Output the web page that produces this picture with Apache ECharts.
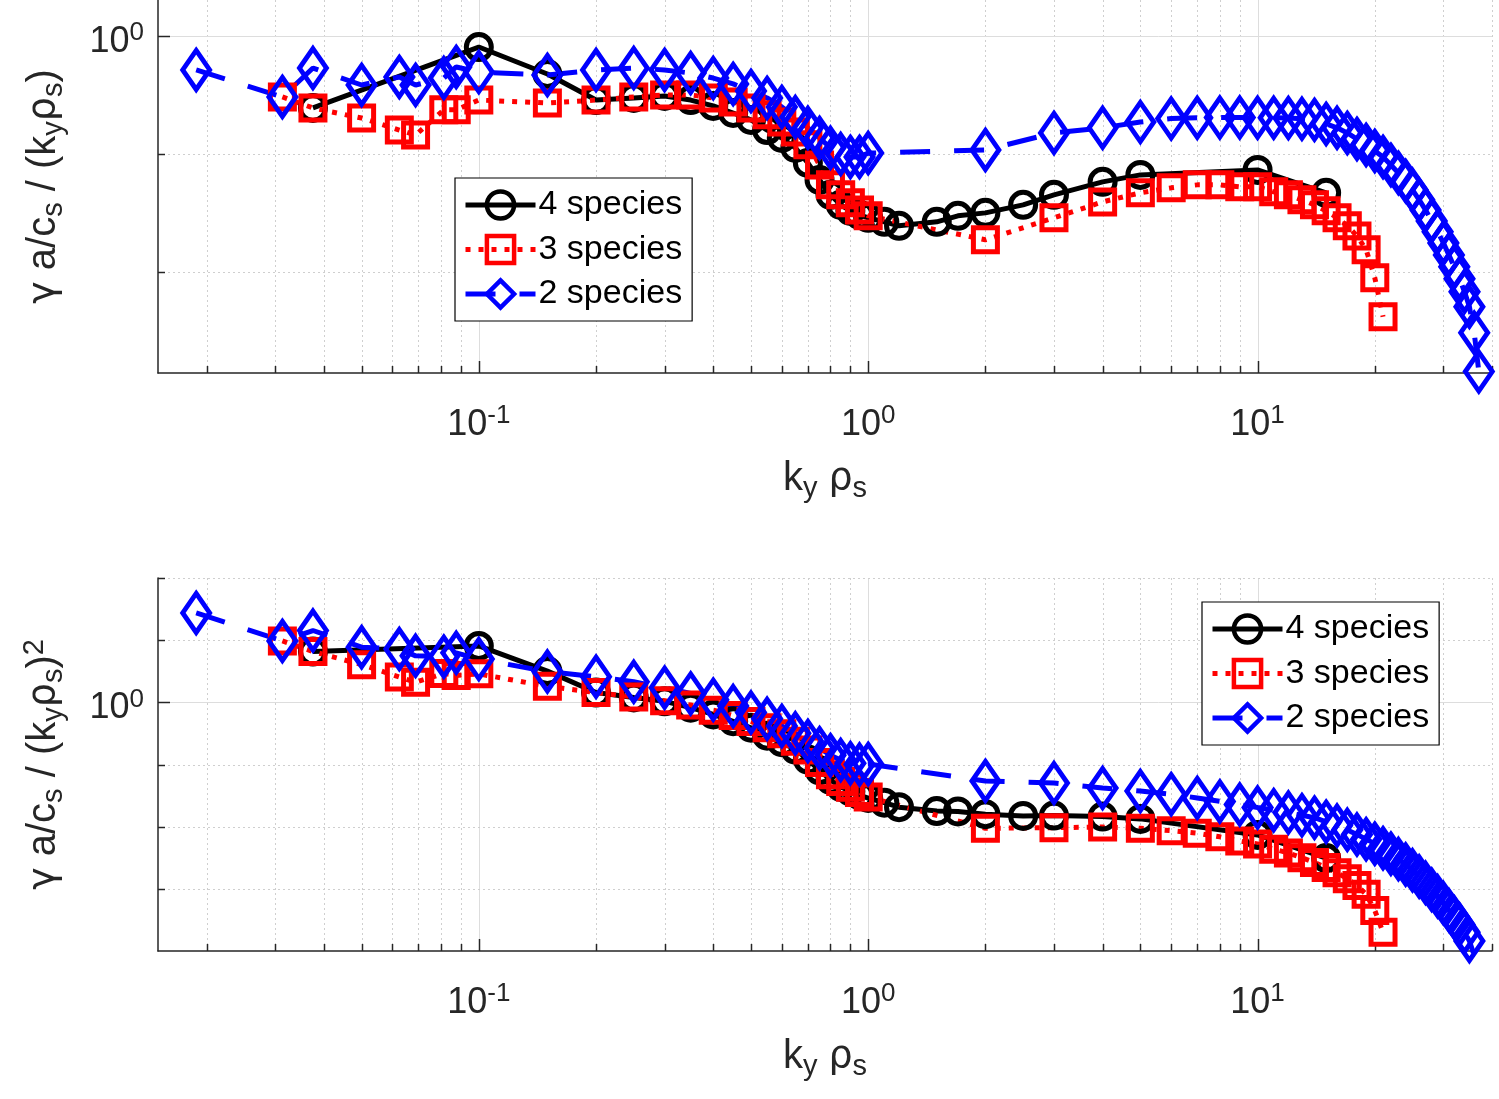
<!DOCTYPE html>
<html>
<head>
<meta charset="utf-8">
<script src="https://cdn.jsdelivr.net/npm/echarts@6/dist/echarts.min.js"></script>
<style>
  html, body { margin: 0; padding: 0; background: #fff; }
  #main { width: 1499px; height: 1099px; }
</style>
</head>
<body>
<div id="main"></div>
<script>
// ---- data ----
// 4 species (black circles)
const kyBlack = [0.0375, 0.1, 0.15, 0.2, 0.25, 0.3, 0.35, 0.4, 0.45, 0.5, 0.55, 0.6, 0.65, 0.7, 0.75, 0.8, 0.85, 0.9, 0.95, 1.0,
  1.1, 1.2, 1.5, 1.7, 2, 2.5, 3, 4, 5, 10, 15];
const topBlack = [0.246, 0.807, 0.477, 0.287, 0.299, 0.311, 0.287, 0.256, 0.223, 0.195, 0.160, 0.137, 0.113, 0.0843, 0.0605, 0.0452, 0.0372, 0.0331, 0.0306, 0.0289,
  0.0267, 0.0247, 0.0267, 0.0300, 0.0318, 0.0372, 0.0452, 0.0582, 0.0667, 0.0735, 0.0470];
const botBlack = [6.56, 8.07, 3.18, 1.435, 1.196, 1.037, 0.820, 0.640, 0.496, 0.390, 0.291, 0.228, 0.174, 0.120, 0.0807, 0.0565, 0.0438, 0.0368, 0.0322, 0.0289,
  0.0243, 0.0206, 0.0178, 0.0176, 0.0159, 0.01488, 0.01507, 0.01455, 0.01334, 0.00735, 0.00313];

// 3 species (red squares)
const kyRed = [0.0313, 0.0375, 0.05, 0.0625, 0.0688, 0.0813, 0.0875, 0.1,
  0.15, 0.2, 0.25, 0.3, 0.35, 0.4, 0.45, 0.5, 0.55, 0.6, 0.65, 0.7, 0.75, 0.8, 0.85, 0.9, 0.95, 1.0,
  2, 3, 4, 5, 6, 7, 8, 9, 10, 11, 12, 13, 14, 15, 16, 17, 18, 19, 20, 21];
const topRed = [0.305, 0.246, 0.202, 0.160, 0.145, 0.237, 0.237, 0.287,
  0.271, 0.287, 0.305, 0.317, 0.317, 0.299, 0.277, 0.246, 0.215, 0.187, 0.154, 0.120, 0.0810, 0.0549, 0.0452, 0.0387, 0.0337, 0.0300,
  0.0188, 0.0289, 0.0394, 0.0470, 0.0518, 0.0549, 0.0549, 0.0528, 0.0528, 0.0479, 0.0452, 0.0410, 0.0372, 0.0331, 0.0289, 0.0247, 0.0203, 0.0155, 0.00897, 0.0042];
const botRed = [9.74, 6.56, 4.04, 2.56, 2.11, 2.92, 2.71, 2.87,
  1.81, 1.435, 1.22, 1.057, 0.906, 0.748, 0.616, 0.492, 0.391, 0.312, 0.237, 0.171, 0.108, 0.0686, 0.0532, 0.0430, 0.0355, 0.0300,
  0.0094, 0.00963, 0.00985, 0.0094, 0.00863, 0.00784, 0.00686, 0.00587, 0.00528, 0.00435, 0.00377, 0.00315, 0.00266, 0.00221, 0.00181, 0.00145, 0.00113, 0.000816, 0.000449, 0.0002];

// 2 species (blue diamonds)
const kyBlue = [0.0188, 0.0313, 0.0375, 0.05, 0.0625, 0.0688, 0.0813, 0.0875, 0.1,
  0.15, 0.2, 0.25, 0.3, 0.35, 0.4, 0.45, 0.5, 0.55, 0.6, 0.65, 0.7, 0.75, 0.8, 0.85, 0.9, 0.95, 1.0,
  2, 3, 4, 5, 6, 7, 8, 9, 10, 11, 12, 13, 14, 15, 16, 17, 18, 19, 20,
  21, 22, 23, 24, 25, 26, 27, 28, 29, 30, 31, 32, 33, 34, 35, 36, 37];
const topBlue = [0.516, 0.305, 0.536, 0.385, 0.450, 0.385, 0.441, 0.547, 0.496,
  0.468, 0.516, 0.536, 0.516, 0.486, 0.441, 0.393, 0.343, 0.299, 0.251, 0.206, 0.167, 0.137, 0.113, 0.100, 0.0947, 0.0947, 0.102,
  0.1086, 0.151, 0.167, 0.187, 0.200, 0.203, 0.204, 0.204, 0.203, 0.203, 0.202, 0.199, 0.195, 0.180, 0.167, 0.151, 0.1345, 0.1197, 0.1064,
  0.0947, 0.0810, 0.0693, 0.0593, 0.0498, 0.0410, 0.0337, 0.0272, 0.0220, 0.0177, 0.0140, 0.0111, 0.0088, 0.00683, 0.00509, 0.00307, 0.00144];
const botBlue = [27.4, 9.74, 14.3, 7.70, 7.20, 5.60, 5.42, 6.25, 4.96,
  3.12, 2.58, 2.14, 1.72, 1.389, 1.103, 0.873, 0.686, 0.544, 0.418, 0.317, 0.239, 0.183, 0.141, 0.118, 0.105, 0.0997, 0.102,
  0.0543, 0.0503, 0.0418, 0.0374, 0.0333, 0.0290, 0.0255, 0.0227, 0.0203, 0.01845, 0.01683, 0.0153, 0.01393, 0.0120, 0.01044, 0.00888, 0.00747, 0.00630, 0.00532,
  0.00451, 0.00368, 0.00301, 0.00247, 0.00199, 0.00158, 0.00125, 0.000971, 0.000759, 0.000590, 0.000452, 0.000347, 0.000267, 0.000201, 0.000145, 0.0000853, 0.0000389];

const seriesNames = ['4 species', '3 species', '2 species'];

// grid lines / ticks (axis decoration, MATLAB style)
const xMinor = [0.02, 0.03, 0.04, 0.05, 0.06, 0.07, 0.08, 0.09, 0.2, 0.3, 0.4, 0.5, 0.6, 0.7, 0.8, 0.9,
  2, 3, 4, 5, 6, 7, 8, 9, 20, 30, 40];
const xMajor = [0.1, 1, 10];
const yMinorTop = [0.01, 0.1];
const yMinorBot = [0.001, 0.01, 0.1, 10, 100];

const FONT = '"Liberation Sans", Arial, Helvetica, sans-serif';
const AX = '#262626';

function gridItems(yMinor) {
  const items = [];
  xMinor.forEach(v => items.push([v, 1, 0]));
  xMajor.forEach(v => items.push([v, 1, 1]));
  yMinor.forEach(v => items.push([1, v, 2]));
  items.push([1, 1, 3]);
  return items;
}

function renderGrid(params, api) {
  const cs = params.coordSys;
  const kind = api.value(2);
  const pt = api.coord([api.value(0), api.value(1)]);
  const major = kind === 1 || kind === 3;
  const gStyle = major ? { stroke: '#dddddd', lineWidth: 1 } : { stroke: '#cfcfcf', lineWidth: 1, lineDash: [2, 3] };
  const tStyle = { stroke: AX, lineWidth: 1.5 };
  const tl = major ? 12 : 7;
  if (kind < 2) {
    const x = Math.round(pt[0]) + 0.5;
    const b = cs.y + cs.height;
    return { type: 'group', children: [
      { type: 'line', shape: { x1: x, y1: cs.y, x2: x, y2: b }, style: gStyle },
      { type: 'line', shape: { x1: x, y1: b, x2: x, y2: b - tl }, style: tStyle }
    ] };
  }
  const y = Math.round(pt[1]) + 0.5;
  return { type: 'group', children: [
    { type: 'line', shape: { x1: cs.x, y1: y, x2: cs.x + cs.width, y2: y }, style: gStyle },
    { type: 'line', shape: { x1: cs.x, y1: y, x2: cs.x + tl, y2: y }, style: tStyle }
  ] };
}

function decade(v) {
  const e = Math.log10(v);
  const r = Math.round(e);
  return Math.abs(e - r) < 1e-6 ? r : null;
}

const labelRich = {
  b: { fontFamily: FONT, fontSize: 36, lineHeight: 44, color: AX },
  s: { fontFamily: FONT, fontSize: 26, lineHeight: 24, verticalAlign: 'top', color: AX }
};
const nameRich = {
  n: { fontFamily: FONT, fontSize: 40, lineHeight: 48, color: AX },
  g: { fontFamily: '"DejaVu Sans", sans-serif', fontSize: 38, lineHeight: 48, color: AX },
  s: { fontFamily: FONT, fontSize: 29, lineHeight: 24, verticalAlign: 'bottom', color: AX },
  p: { fontFamily: FONT, fontSize: 29, lineHeight: 26, verticalAlign: 'top', color: AX }
};

const styles = [
  { color: '#000000', symbol: 'circle', size: 25, dash: 'solid' },
  { color: '#ff0000', symbol: 'rect', size: 24, dash: [5, 8] },
  { color: '#0000ff', symbol: 'diamond', size: [27, 39], dash: [30, 24] }
];

function lineSeries(i, grid, ky, vals) {
  const st = styles[i];
  return {
    name: seriesNames[i], type: 'line', xAxisIndex: grid, yAxisIndex: grid,
    data: ky.map((k, j) => [k, vals[j]]),
    symbol: st.symbol, symbolSize: st.size, showAllSymbol: true,
    lineStyle: { color: st.color, width: 5, type: st.dash },
    itemStyle: { color: 'rgba(255,255,255,0)', borderColor: st.color, borderWidth: 5 },
    emphasis: { disabled: true }, z: 3, animation: false
  };
}

function xAxisCfg(i) {
  return {
    type: 'log', gridIndex: i, min: 0.015, max: 40,
    axisLine: { show: true, onZero: false, lineStyle: { color: AX, width: 1.5 } },
    axisTick: { show: false }, splitLine: { show: false },
    axisLabel: {
      margin: 30, rich: labelRich,
      formatter: v => { const d = decade(v); return d === null ? '' : '{b|10}{s|' + d + '}'; }
    },
    name: '{n|k}{s|y}{n| }{g|ρ}{s|s}', nameLocation: 'middle', nameGap: 82,
    nameTextStyle: { rich: nameRich }
  };
}

function yAxisCfg(i, mn, mx, name) {
  return {
    type: 'log', gridIndex: i, min: mn, max: mx,
    axisLine: { show: true, onZero: false, lineStyle: { color: AX, width: 1.5 } },
    axisTick: { show: false }, splitLine: { show: false },
    axisLabel: {
      margin: 14, rich: labelRich, padding: [12, 0, 0, 0],
      formatter: v => decade(v) === 0 ? '{b|10}{s|0}' : ''
    },
    name: name, nameLocation: 'middle', nameRotate: 90, nameGap: 90,
    nameTextStyle: { rich: nameRich }
  };
}

function legendCfg(left, top) {
  return {
    data: seriesNames, orient: 'vertical', left: left, top: top,
    itemWidth: 70, itemHeight: 34, itemGap: 10.5,
    padding: [10, 10, 10, 8],
    backgroundColor: '#ffffff', borderColor: '#000000', borderWidth: 1.2,
    selectedMode: false,
    lineStyle: { width: 5 },
    itemStyle: { borderWidth: 4.5 },
    textStyle: { fontFamily: FONT, fontSize: 34, color: '#000000', padding: [0, 0, 0, -2] }
  };
}

const yNameTop = '{g|γ}{n| a/c}{s|s}{n| / (k}{s|y}{g|ρ}{s|s}{n|)}';
const yNameBot = yNameTop + '{p|2}';

const chart = echarts.init(document.getElementById('main'), null, { renderer: 'canvas' });
chart.setOption({
  backgroundColor: '#ffffff',
  animation: false,
  grid: [
    { left: 158, top: 0, width: 1334, height: 373, outerBoundsMode: 'none' },
    { left: 158, top: 578, width: 1334, height: 373, outerBoundsMode: 'none' }
  ],
  legend: [legendCfg(455, 178), legendCfg(1202, 602)],
  xAxis: [xAxisCfg(0), xAxisCfg(1)],
  yAxis: [
    yAxisCfg(0, 0.0014, 2.02, yNameTop),
    yAxisCfg(1, 0.0001, 100, yNameBot)
  ],
  series: [
    { type: 'custom', xAxisIndex: 0, yAxisIndex: 0, silent: true, z: 1, animation: false,
      encode: { x: 0, y: 1 }, data: gridItems(yMinorTop), renderItem: renderGrid },
    { type: 'custom', xAxisIndex: 1, yAxisIndex: 1, silent: true, z: 1, animation: false,
      encode: { x: 0, y: 1 }, data: gridItems(yMinorBot), renderItem: renderGrid },
    lineSeries(0, 0, kyBlack, topBlack),
    lineSeries(1, 0, kyRed, topRed),
    lineSeries(2, 0, kyBlue, topBlue),
    lineSeries(0, 1, kyBlack, botBlack),
    lineSeries(1, 1, kyRed, botRed),
    lineSeries(2, 1, kyBlue, botBlue)
  ]
});
</script>
</body>
</html>
